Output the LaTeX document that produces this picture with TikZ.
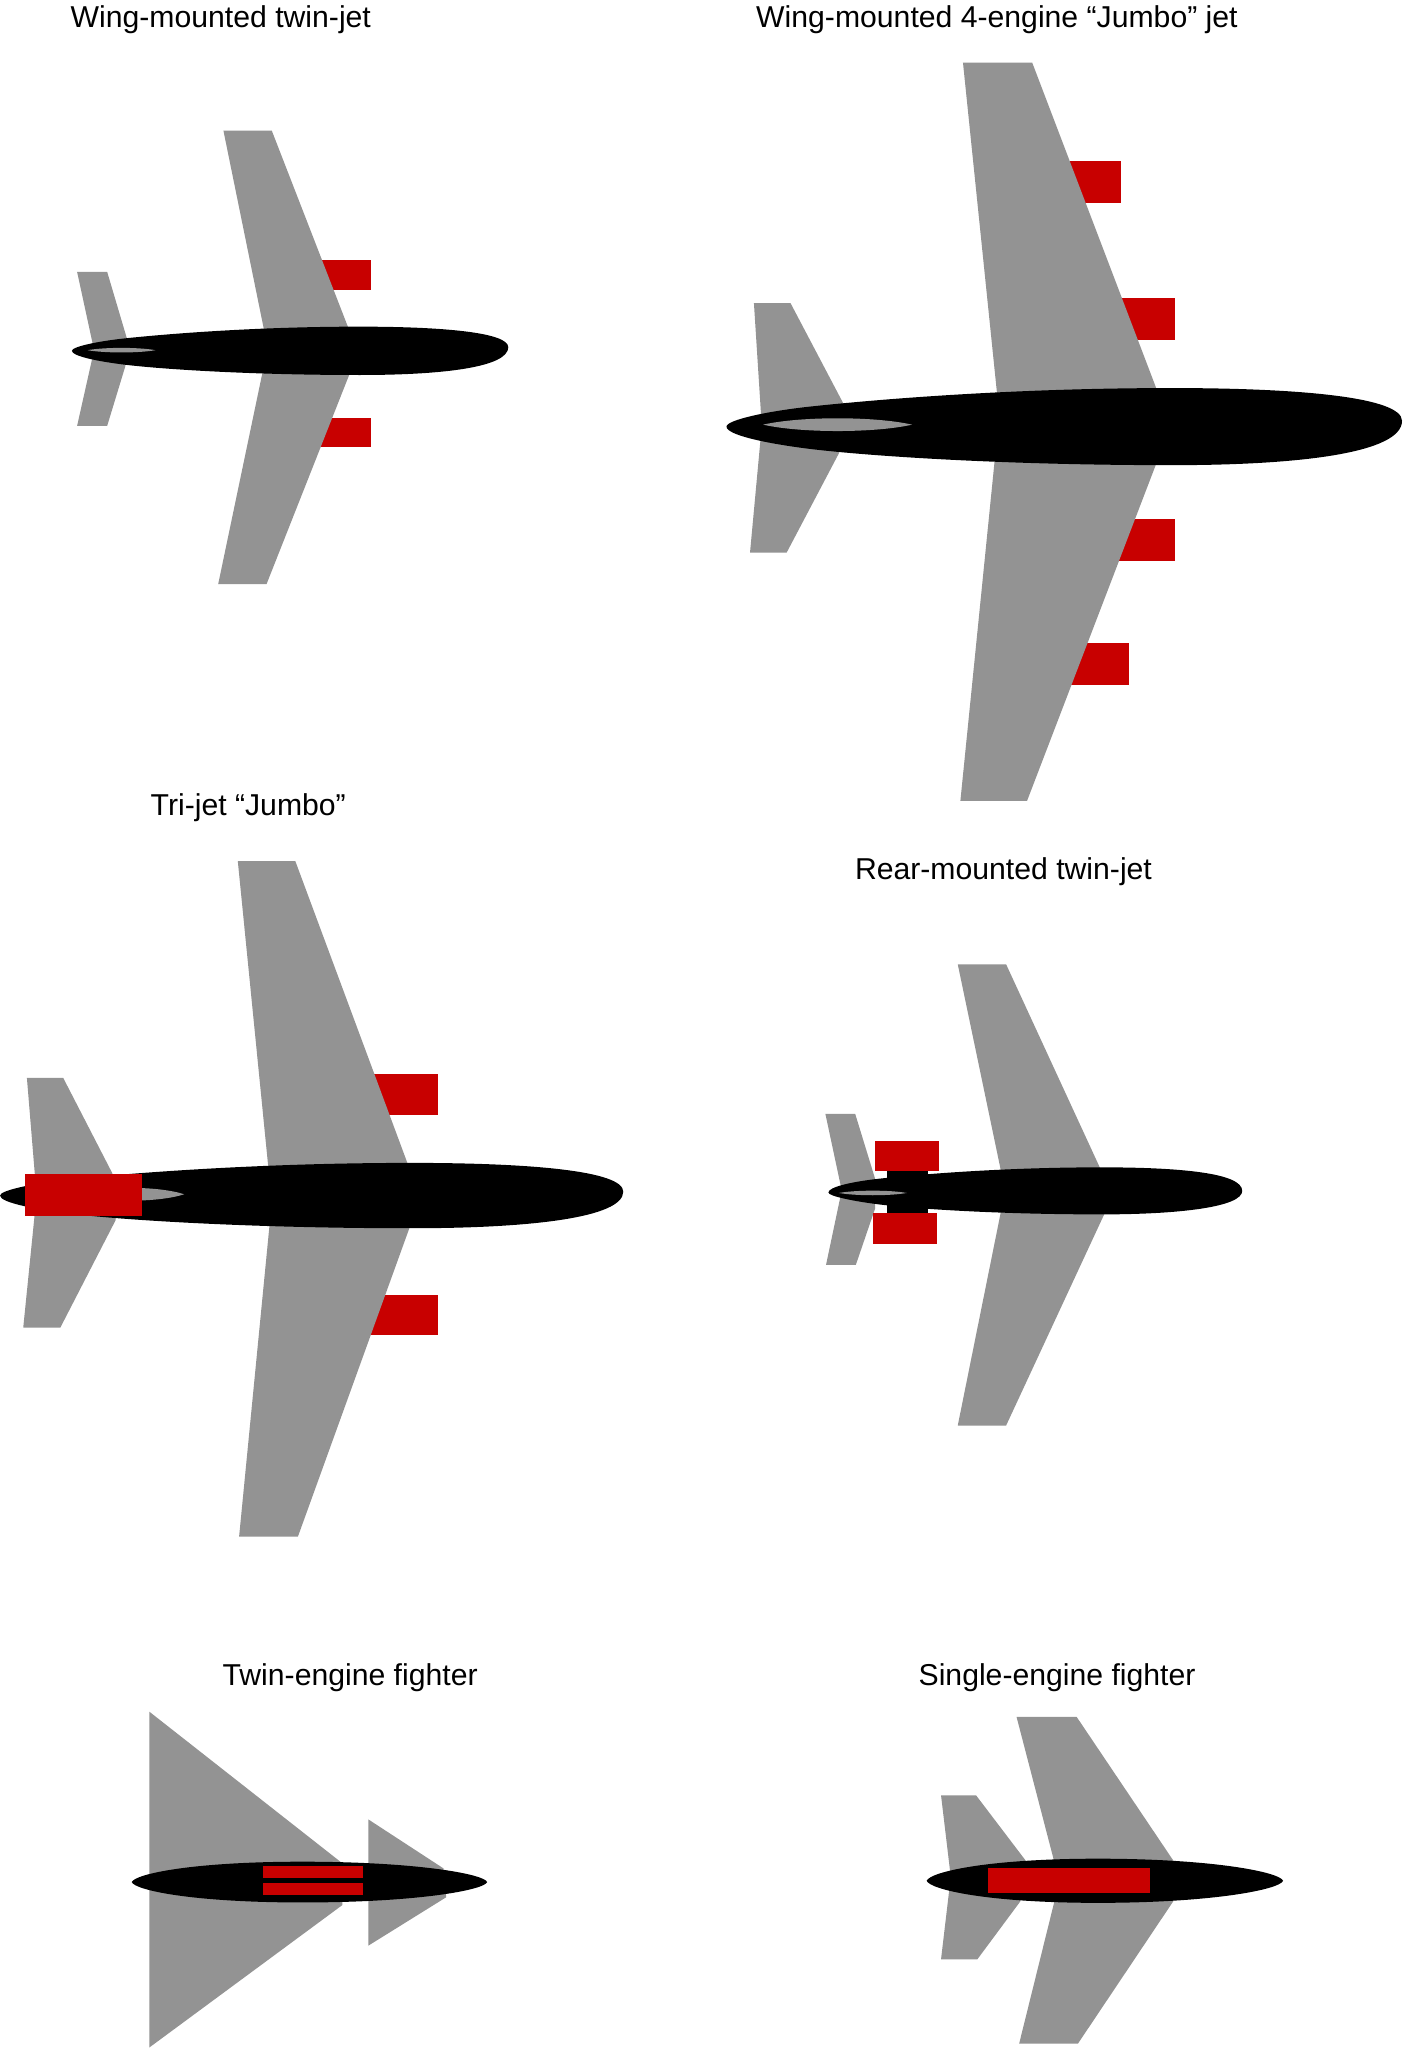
\documentclass[tikz,border=0pt]{standalone}
\usepackage{fontspec}
\setmainfont{Liberation Sans}
\definecolor{wingc}{HTML}{939393}
\definecolor{engc}{HTML}{C80000}
\tikzset{
  wing/.style={fill=wingc,draw=none},
  eng/.style={fill=engc,draw=none},
  title/.style={inner sep=0pt,font=\fontsize{23.1}{27}\selectfont,text=black},
}
% tail x, nose x, centre y, half height, tail offset, nose offset
\newcommand\fuselage[6]{%
  \pgfmathsetmacro\fw{#2-#1}%
  \begin{scope}[shift={(#1,#3)},xscale=\fw,yscale=-#4]
    \fill[black] (0,#5) .. controls (0,.17) and (.06,.40) .. (.124,.52)
      .. controls (.22,.70) and (.42,1) .. (.66,1)
      .. controls (.85,1) and (1,.76) .. (1,#6)
      .. controls (1,-.68) and (.85,-1) .. (.66,-1)
      .. controls (.42,-1) and (.22,-.78) .. (.124,-.58)
      .. controls (.06,-.44) and (0,-.22) .. (0,#5) -- cycle;
  \end{scope}}
% fighter body: tail x, nose x, centre y, half height
\newcommand\fighterbody[4]{%
  \pgfmathsetmacro\fw{#2-#1}%
  \begin{scope}[shift={(#1,#3)},xscale=\fw,yscale=-#4]
    \fill[black] (0,0) .. controls (.01,.4) and (.17,1) .. (.48,1)
      .. controls (.8,1) and (.99,.4) .. (1,0)
      .. controls (.99,-.4) and (.8,-1) .. (.48,-1)
      .. controls (.17,-1) and (.01,-.4) .. (0,0) -- cycle;
  \end{scope}}
% cockpit lens: left x, right x, y, half height
\newcommand\lens[4]{%
  \fill[wingc] (#1,#3) .. controls ({#1+(#2-#1)*.25},{#3-#4*1.3}) and ({#1+(#2-#1)*.75},{#3-#4*1.3}) .. (#2,#3)
    .. controls ({#1+(#2-#1)*.75},{#3+#4*1.3}) and ({#1+(#2-#1)*.25},{#3+#4*1.3}) .. cycle;}
\begin{document}
\begin{tikzpicture}[x=1pt,y=-1pt]
\useasboundingbox[fill=white] (0,0) rectangle (1073,1567.4);
% Wing-mounted twin-jet
\node[title] (t1) at (169,15) {Wing-mounted twin-jet};
\fill[eng] (230,199) rectangle (284,222);
\fill[eng] (230,320) rectangle (284,342);
\fill[wing] (59,208)--(82,208)--(98,262)--(98,268)--(72,268)--cycle;
\fill[wing] (72,268)--(96,268)--(96,280)--(82,326)--(59,326)--cycle;
\fill[wing] (171,100)--(208,100)--(267,252)--(267,262)--(204,262)--cycle;
\fill[wing] (203,275)--(268,275)--(268,285)--(204,447)--(167,447)--cycle;
\fuselage{55}{389}{268.5}{18.5}{0}{.15}
\lens{67}{119}{268}{1.8}
% Wing-mounted 4-engine
\node[title] (t2) at (763,15) {Wing-mounted 4-engine “Jumbo” jet};
\fill[eng] (800,123) rectangle (858,155);
\fill[eng] (840,228) rectangle (899,260);
\fill[eng] (840,397) rectangle (899,429);
\fill[eng] (800,492) rectangle (864,524);
\fill[wing] (577,232)--(605,232)--(645,308)--(645,326)--(583,326)--cycle;
\fill[wing] (583,326)--(642,326)--(642,347)--(602,423)--(574,423)--cycle;
\fill[wing] (737,48)--(790,48)--(886,300)--(886,320)--(765,320)--cycle;
\fill[wing] (763,335)--(886,335)--(886,352)--(786,613)--(735,613)--cycle;
\fuselage{556}{1073}{326.5}{29.5}{0}{.15}
\lens{584}{698}{325}{5}
% Tri-jet
\node[title] (t3) at (190,618) {Tri-jet “Jumbo”};
\fill[eng] (270,822) rectangle (335,853);
\fill[eng] (270,991) rectangle (335,1022);
\fill[wing] (20.6,825)--(48.4,825)--(86,898)--(86,915)--(28,915)--cycle;
\fill[wing] (28,915)--(88.4,915)--(88.4,934)--(46.2,1016)--(17.8,1016)--cycle;
\fill[wing] (182,659)--(226,659)--(312.5,892)--(312.5,910)--(207,910)--cycle;
\fill[wing] (208,920)--(314,920)--(314,938)--(228,1176)--(183,1176)--cycle;
\fuselage{0}{477}{915}{25}{0}{.12}
\lens{60}{141}{914}{5}
\fill[eng] (19,898.5) rectangle (108.7,930.5);
% Rear-mounted twin-jet
\node[title] (t4) at (768,667) {Rear-mounted twin-jet};
\fill[wing] (631.7,852.5)--(654.5,852.5)--(669.7,902)--(669.7,912)--(644.4,912)--cycle;
\fill[wing] (644,912)--(669.7,912)--(669.7,925)--(655,968)--(632.2,968)--cycle;
\fill[wing] (733,738)--(770,738)--(842.4,895)--(842.4,905)--(767.9,905)--cycle;
\fill[wing] (767.9,918)--(845.7,918)--(845.7,928)--(770,1091)--(733,1091)--cycle;
\fuselage{634}{950.7}{911.4}{18}{-.07}{0}
\fill[black] (679,895) rectangle (710,928.6);
\fill[eng] (669.8,873) rectangle (718.8,896);
\fill[eng] (667.8,928.6) rectangle (716.8,952);
\lens{642}{694}{913}{1.8}
% Twin-engine fighter
\node[title] (t5) at (268,1284) {Twin-engine fighter};
\fill[wing] (114.3,1310)--(262,1426)--(262,1458)--(114.3,1567)--cycle;
\fill[wing] (282,1392.5)--(339.5,1430)--(341.5,1452)--(282,1489)--cycle;
\fighterbody{100.8}{372.9}{1440.4}{15.6}
\fill[eng] (201.5,1428) rectangle (278,1437.1);
\fill[eng] (201.5,1441.4) rectangle (278,1450.6);
% Single-engine fighter
\node[title] (t6) at (809,1284) {Single-engine fighter};
\fill[wing] (778,1314)--(824,1314)--(898,1424)--(898,1435)--(809.5,1435)--cycle;
\fill[wing] (809.5,1445)--(898,1445)--(898,1455)--(825,1564)--(780,1564)--cycle;
\fill[wing] (720.2,1374)--(747,1374)--(785,1424)--(785,1436)--(727.6,1436)--cycle;
\fill[wing] (727,1442)--(781,1442)--(781,1455)--(748,1499.5)--(720.2,1499.5)--cycle;
\fighterbody{709.2}{982}{1439.4}{16.9}
\fill[eng] (755.9,1429.7) rectangle (880.2,1448.8);
\end{tikzpicture}
\end{document}
